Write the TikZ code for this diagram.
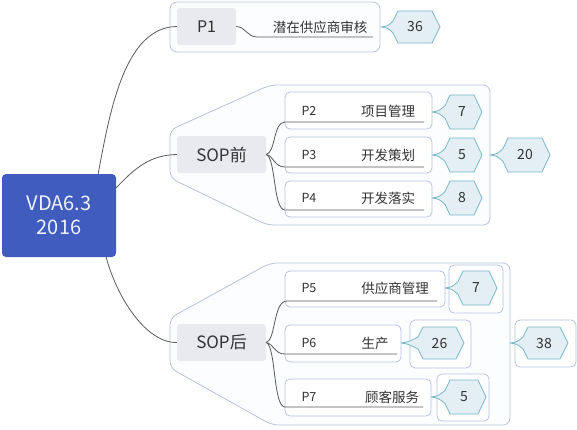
\documentclass[tikz,border=0pt]{standalone}
\usepackage{fontspec}
\setmainfont{Noto Sans CJK SC}
\definecolor{rootblue}{RGB}{64,92,190}
\definecolor{roottext}{RGB}{238,243,255}
\definecolor{grpline}{RGB}{183,195,221}
\definecolor{grpfill}{RGB}{252,253,255}
\definecolor{graybox}{RGB}{232,234,239}
\definecolor{hexfill}{RGB}{228,239,245}
\definecolor{hexline}{RGB}{120,184,198}
\definecolor{connc}{RGB}{90,90,90}
\definecolor{txtc}{RGB}{51,51,51}
\newcommand\hexcall[7]{%
  \draw[hexs] (#2,#3) .. controls ({#2+7},{#3-1}) .. ({#4+3},{#3-0.375*#6}) -- ({#4+8},{#3-#6}) -- ({#5-8},{#3-#6}) -- (#5,#3)
     -- ({#5-8},{#3+#6}) -- ({#4+8},{#3+#6}) -- ({#4+3},{#3+0.375*#6}) .. controls ({#2+7},{#3+1}) .. (#2,#3) -- cycle;
  \node[numtxt] (#1) at ({(#4+#5)/2},#3) {#7};}
\begin{document}
\begin{tikzpicture}[x=1pt,y=-1pt,
  grp/.style={draw=grpline, fill=grpfill, line width=0.8pt, rounded corners=7pt},
  gbox/.style={fill=graybox, rounded corners=3pt, inner sep=0pt, text=txtc},
  pbox/.style={draw=grpline, fill=white, rounded corners=5pt, line width=0.8pt, inner sep=0pt},
  cbox/.style={draw=grpline, fill=white, rounded corners=5pt, line width=0.8pt},
  hexs/.style={draw=hexline, fill=hexfill, line width=0.8pt, line join=round},
  conn/.style={draw=connc, line width=0.8pt},
  numtxt/.style={text=txtc, font=\fontsize{14}{16}\selectfont, inner sep=0pt},
  ptxt/.style={text=txtc, font=\fontsize{12.5}{15}\selectfont, inner sep=0pt},
  ctxt/.style={text=txtc, font=\fontsize{13.5}{15}\selectfont, inner sep=0pt}]
\useasboundingbox (0,0) rectangle (577,429);

% groups
\draw[grp] (170,2) rectangle (380,52);
\draw[grp] (170,130) -- (270,85) -- (490,85) -- (490,225) -- (267,225) -- (170,178) -- cycle;
\draw[grp] (170,318) -- (270,263) -- (510,263) -- (510,425) -- (272,425) -- (170,368) -- cycle;

% callout enclosures
\draw[cbox] (449,265) rectangle (503,313);
\draw[cbox] (410,320) rectangle (471,368);
\draw[cbox] (437,374) rectangle (489,421);
\draw[cbox] (515,320) rectangle (576,367);

% root
\node[fill=rootblue, rounded corners=4pt, minimum width=114, minimum height=83, inner sep=0pt,
      text=roottext, align=center, font=\fontsize{20}{24}\selectfont] (root) at (59,215.5) {VDA6.3\\2016};

% main boxes
\node[gbox, minimum width=59, minimum height=37, font=\fontsize{16}{18}\selectfont] (p1) at (206.5,26.5) {P1};
\node[gbox, minimum width=89, minimum height=37, font=\fontsize{17}{19}\selectfont] (sopa) at (221.5,154.5) {SOP前};
\node[gbox, minimum width=89, minimum height=37, font=\fontsize{17}{19}\selectfont] (sopb) at (221.5,342.5) {SOP后};

% root connectors
\draw[conn] ([xshift=-18pt]root.north east) .. controls (110,110) and (125,27) .. (p1.west);
\draw[conn] ([yshift=-14pt]root.north east) .. controls (135,168) and (150,155) .. (sopa.west);
\draw[conn] ([xshift=-10pt]root.south east) .. controls (116,295) and (145,343) .. (sopb.west);

% P1 label
\node[ctxt] (t1) at (320,27) {潜在供应商审核};
\coordinate (u1) at (373,37);
\draw[conn] (p1.east) .. controls (246,27) and (247,37) .. (257,37) -- (u1);

% SOP before children
\node[pbox, minimum width=147, minimum height=37] (p2) at (358.5,110.5) {};
\node[pbox, minimum width=147, minimum height=36] (p3) at (358.5,155) {};
\node[pbox, minimum width=147, minimum height=36] (p4) at (358.5,199) {};
\node[ptxt] (l2) at (309,111) {P2};
\node[ctxt] (t2) at (388,111) {项目管理};
\node[ptxt] (l3) at (309,155) {P3};
\node[ctxt] (t3) at (388,155) {开发策划};
\node[ptxt] (l4) at (309,198) {P4};
\node[ctxt] (t4) at (388,198) {开发落实};
\coordinate (u2) at (424,122);
\coordinate (u3) at (424,167);
\coordinate (u4) at (424,210);
\draw[conn] (sopa.east) .. controls (276,152) and (273,122) .. (285,122) -- (u2);
\draw[conn] (sopa.east) .. controls (274,156) and (274,167) .. (285,167) -- (u3);
\draw[conn] (sopa.east) .. controls (276,158) and (273,210) .. (285,210) -- (u4);

% SOP after children
\node[pbox, minimum width=160, minimum height=36] (p5) at (365,289) {};
\node[pbox, minimum width=116, minimum height=37] (p6) at (343,343.5) {};
\node[pbox, minimum width=146, minimum height=37] (p7) at (358,397.5) {};
\node[ptxt] (l5) at (309,288) {P5};
\node[ctxt] (t5) at (395,288) {供应商管理};
\node[ptxt] (l6) at (309,343) {P6};
\node[ctxt] (t6) at (375,343) {生产};
\node[ptxt] (l7) at (309,397) {P7};
\node[ctxt] (t7) at (392,397) {顾客服务};
\coordinate (u5) at (437,301);
\coordinate (u6) at (397,354);
\coordinate (u7) at (423,407);
\draw[conn] (sopb.east) .. controls (276,340) and (273,301) .. (287,301) -- (u5);
\draw[conn] (sopb.east) .. controls (274,344) and (274,354) .. (285,354) -- (u6);
\draw[conn] (sopb.east) .. controls (276,346) and (273,407) .. (285,407) -- (u7);

% callouts
\hexcall{n36}{381}{27}{390}{440}{16}{36}
\hexcall{n7a}{432}{112}{442}{482}{17}{7}
\hexcall{n5a}{432}{155}{442}{482}{17}{5}
\hexcall{n8}{432}{198}{442}{482}{17}{8}
\hexcall{n20}{490}{155}{500}{550}{17}{20}
\hexcall{n7b}{445}{288}{455}{497}{17}{7}
\hexcall{n26}{401}{343}{415}{464}{16}{26}
\hexcall{n5b}{431}{397}{442}{486}{17}{5}
\hexcall{n38}{510}{343}{520}{568}{16}{38}
\end{tikzpicture}
\end{document}
